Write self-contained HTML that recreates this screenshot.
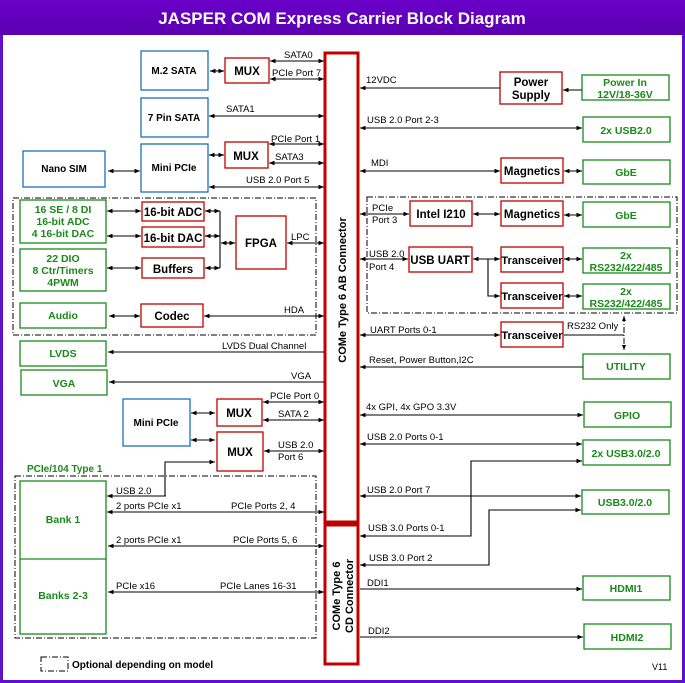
<!DOCTYPE html>
<html><head><meta charset="utf-8"><style>
body{margin:0;background:#fff}
svg{display:block}
text{font-family:"Liberation Sans",Arial,sans-serif}
.l{font-size:9.5px;fill:#000}
.g{font-size:10.5px;font-weight:bold;fill:#1a8a1a;text-anchor:middle}
.b{font-size:10px;font-weight:bold;fill:#000;text-anchor:middle}
.r{font-size:11.5px;font-weight:bold;fill:#000;text-anchor:middle}
.t{font-size:11px}
.bx{fill:#fff;stroke-width:1.3}
.gr{stroke:#1a8a1a}.bl{stroke:#1a6fc0}.rd{stroke:#c00000}
.ln{stroke:#000;stroke-width:1.1;fill:none}
.dd{stroke:#000;stroke-width:1;fill:none;stroke-dasharray:6,2,1,2}
</style></head><body>
<svg width="685" height="683" viewBox="0 0 685 683">
<defs>
<linearGradient id="tg" x1="0" y1="0" x2="0" y2="1"><stop offset="0" stop-color="#6a00c8"/><stop offset="1" stop-color="#5a00b0"/></linearGradient>
<marker id="a" viewBox="0 0 10 10" refX="10" refY="5" markerWidth="5" markerHeight="5" orient="auto-start-reverse"><path d="M0,1 L10,5 L0,9z" fill="#000"/></marker>
</defs>
<rect x="1.5" y="1.5" width="682" height="680" fill="#fff" stroke="#5f10c8" stroke-width="3"/>
<rect x="0" y="0" width="685" height="35" fill="url(#tg)"/>
<text x="342" y="24" text-anchor="middle" style="font-size:17px;font-weight:bold;fill:#fff">JASPER COM Express Carrier Block Diagram</text>

<rect x="325" y="53" width="33" height="469" fill="#fff" stroke="#c00000" stroke-width="3"/>
<text transform="translate(346,290) rotate(-90)" text-anchor="middle" style="font-size:11px;font-weight:bold">COMe Type 6 AB Connector</text>
<rect x="325" y="525" width="33" height="139" fill="#fff" stroke="#c00000" stroke-width="3"/>
<text transform="translate(340,596) rotate(-90)" text-anchor="middle" style="font-size:11px;font-weight:bold">COMe Type 6</text>
<text transform="translate(353,596) rotate(-90)" text-anchor="middle" style="font-size:11px;font-weight:bold">CD Connector</text>

<rect class="dd" x="13" y="198" width="303" height="137"/>
<rect class="dd" x="367" y="197" width="310" height="116"/>
<rect class="dd" x="15" y="476" width="301" height="162"/>
<rect class="dd" x="41" y="657" width="27" height="14"/>
<text x="72" y="668" style="font-size:10px;font-weight:bold">Optional depending on model</text>
<text x="652" y="670" style="font-size:9px">V11</text>

<rect class="bx bl" x="141" y="51" width="67" height="39"/><text class="b" x="174" y="74">M.2 SATA</text>
<rect class="bx rd" x="225" y="58" width="44" height="25"/><text class="r" x="247" y="75">MUX</text>
<rect class="bx bl" x="141" y="98" width="67" height="39"/><text class="b" x="174" y="121">7 Pin SATA</text>
<rect class="bx bl" x="23" y="151" width="82" height="36"/><text class="b" x="64" y="172">Nano SIM</text>
<rect class="bx bl" x="141" y="144" width="67" height="48"/><text class="b" x="174" y="171">Mini PCIe</text>
<rect class="bx rd" x="225" y="142" width="43" height="26"/><text class="r" x="246" y="160">MUX</text>

<rect class="bx gr" x="20" y="200" width="86" height="43"/>
<text class="g" x="63" y="213">16 SE / 8 DI</text><text class="g" x="63" y="225">16-bit ADC</text><text class="g" x="63" y="237">4 16-bit DAC</text>
<rect class="bx gr" x="20" y="249" width="86" height="42"/>
<text class="g" x="63" y="262">22 DIO</text><text class="g" x="63" y="274">8 Ctr/Timers</text><text class="g" x="63" y="286">4PWM</text>
<rect class="bx gr" x="20" y="303" width="86" height="25"/><text class="g" x="63" y="319">Audio</text>
<rect class="bx rd" x="142" y="202" width="62" height="19"/><text class="r" x="173" y="216">16-bit ADC</text>
<rect class="bx rd" x="142" y="227" width="62" height="20"/><text class="r" x="173" y="242">16-bit DAC</text>
<rect class="bx rd" x="142" y="258" width="62" height="20"/><text class="r" x="173" y="273">Buffers</text>
<rect class="bx rd" x="236" y="216" width="50" height="53"/><text class="r" x="261" y="247">FPGA</text>
<rect class="bx rd" x="141" y="304" width="62" height="23"/><text class="r" x="172" y="320">Codec</text>

<rect class="bx gr" x="20" y="341" width="86" height="25"/><text class="g" x="63" y="357">LVDS</text>
<rect class="bx gr" x="21" y="370" width="86" height="25"/><text class="g" x="64" y="387">VGA</text>
<rect class="bx bl" x="123" y="399" width="67" height="47"/><text class="b" x="156" y="426">Mini PCIe</text>
<rect class="bx rd" x="217" y="399" width="45" height="27"/><text class="r" x="239" y="417">MUX</text>
<rect class="bx rd" x="217" y="432" width="46" height="39"/><text class="r" x="240" y="456">MUX</text>
<text x="27" y="472" style="font-size:10px;font-weight:bold;fill:#1a8a1a">PCIe/104 Type 1</text>
<rect class="bx gr" x="20" y="481" width="86" height="153"/>
<line x1="20" y1="559" x2="106" y2="559" stroke="#1a8a1a" stroke-width="1.3"/>
<text class="g" x="63" y="523">Bank 1</text><text class="g" x="63" y="599">Banks 2-3</text>

<rect class="bx rd" x="500" y="72" width="62" height="32"/><text class="r" x="531" y="86">Power</text><text class="r" x="531" y="99">Supply</text>
<rect class="bx gr" x="582" y="75" width="87" height="25"/><text class="g" x="625" y="86">Power In</text><text class="g" x="625" y="98">12V/18-36V</text>
<rect class="bx gr" x="583" y="117" width="87" height="25"/><text class="g" x="626" y="134">2x USB2.0</text>
<rect class="bx rd" x="501" y="158" width="62" height="25"/><text class="r" x="532" y="175">Magnetics</text>
<rect class="bx gr" x="583" y="160" width="87" height="24"/><text class="g" x="626" y="176">GbE</text>
<rect class="bx rd" x="410" y="201" width="62" height="25"/><text class="r" x="441" y="218">Intel I210</text>
<rect class="bx rd" x="501" y="201" width="62" height="25"/><text class="r" x="532" y="218">Magnetics</text>
<rect class="bx gr" x="583" y="202" width="87" height="25"/><text class="g" x="626" y="219">GbE</text>
<rect class="bx rd" x="409" y="247" width="63" height="25"/><text class="r" x="440" y="264">USB UART</text>
<rect class="bx rd" x="501" y="247" width="62" height="25"/><text class="r t" x="532" y="264">Transceiver</text>
<rect class="bx gr" x="583" y="248" width="87" height="25"/><text class="g" x="626" y="259">2x</text><text class="g" x="626" y="271">RS232/422/485</text>
<rect class="bx rd" x="501" y="283" width="62" height="25"/><text class="r t" x="532" y="300">Transceiver</text>
<rect class="bx gr" x="583" y="284" width="87" height="25"/><text class="g" x="626" y="295">2x</text><text class="g" x="626" y="307">RS232/422/485</text>
<rect class="bx rd" x="501" y="322" width="62" height="25"/><text class="r t" x="532" y="339">Transceiver</text>
<rect class="bx gr" x="583" y="354" width="87" height="25"/><text class="g" x="626" y="370">UTILITY</text>
<rect class="bx gr" x="584" y="402" width="87" height="25"/><text class="g" x="627" y="419">GPIO</text>
<rect class="bx gr" x="583" y="440" width="87" height="25"/><text class="g" x="626" y="457">2x USB3.0/2.0</text>
<rect class="bx gr" x="582" y="490" width="87" height="24"/><text class="g" x="625" y="506">USB3.0/2.0</text>
<rect class="bx gr" x="583" y="576" width="87" height="24"/><text class="g" x="626" y="592">HDMI1</text>
<rect class="bx gr" x="584" y="624" width="87" height="25"/><text class="g" x="627" y="641">HDMI2</text>

<g class="ln" marker-start="url(#a)" marker-end="url(#a)">
<line x1="210" y1="71" x2="224" y2="71"/>
<line x1="270" y1="61" x2="324" y2="61"/>
<line x1="270" y1="79" x2="324" y2="79"/>
<line x1="209" y1="116" x2="324" y2="116"/>
<line x1="108" y1="171" x2="140" y2="171"/>
<line x1="209" y1="155" x2="224" y2="155"/>
<line x1="269" y1="144" x2="324" y2="144"/>
<line x1="269" y1="163" x2="324" y2="163"/>
<line x1="209" y1="187" x2="324" y2="187"/>
<line x1="107" y1="211" x2="141" y2="211"/>
<line x1="107" y1="236" x2="141" y2="236"/>
<line x1="107" y1="268" x2="141" y2="268"/>
<line x1="205" y1="211" x2="220" y2="211"/>
<line x1="205" y1="236" x2="220" y2="236"/>
<line x1="205" y1="268" x2="220" y2="268"/>
<line x1="221" y1="243" x2="235" y2="243"/>
<line x1="287" y1="243" x2="324" y2="243"/>
<line x1="109" y1="316" x2="140" y2="316"/>
<line x1="204" y1="316" x2="324" y2="316"/>
<line x1="191" y1="413" x2="215" y2="413"/>
<line x1="191" y1="440" x2="215" y2="440"/>
<line x1="263" y1="402" x2="324" y2="402"/>
<line x1="263" y1="420" x2="324" y2="420"/>
<line x1="264" y1="451" x2="324" y2="451"/>
<line x1="107" y1="512" x2="324" y2="512"/>
<line x1="108" y1="546" x2="324" y2="546"/>
<line x1="108" y1="592" x2="324" y2="592"/>
</g>
<line class="ln" x1="220" y1="211" x2="220" y2="268"/>
<g class="ln" marker-end="url(#a)">
<line x1="324" y1="352" x2="108" y2="352"/>
<line x1="324" y1="382" x2="109" y2="382"/>
<polyline points="165,496 165,462 215,462"/>
<line x1="166" y1="496" x2="107" y2="496"/>
</g>
<g class="l">
<text x="284" y="58">SATA0</text><text x="272" y="76">PCIe Port 7</text>
<text x="226" y="112">SATA1</text>
<text x="271" y="142">PCIe Port 1</text><text x="275" y="160">SATA3</text>
<text x="246" y="183">USB 2.0 Port 5</text>
<text x="291" y="240">LPC</text><text x="284" y="313">HDA</text>
<text x="222" y="349">LVDS Dual Channel</text><text x="291" y="379">VGA</text>
<text x="270" y="399">PCIe Port 0</text><text x="278" y="417">SATA 2</text>
<text x="278" y="448">USB 2.0</text><text x="278" y="460">Port 6</text>
<text x="116" y="494">USB 2.0</text>
<text x="116" y="509">2 ports PCIe x1</text><text x="231" y="509">PCIe Ports 2, 4</text>
<text x="116" y="543">2 ports PCIe x1</text><text x="233" y="543">PCIe Ports 5, 6</text>
<text x="116" y="589">PCIe x16</text><text x="220" y="589">PCIe Lanes 16-31</text>
</g>

<g class="ln" marker-end="url(#a)">
<line x1="500" y1="88" x2="360" y2="88"/>
<line x1="582" y1="90" x2="563" y2="90"/>
<line x1="583" y1="367" x2="360" y2="367"/>
<line x1="360" y1="589" x2="582" y2="589"/>
<line x1="360" y1="637" x2="583" y2="637"/>
<polyline points="488,259 488,296 500,296"/>
</g>
<g class="ln" marker-start="url(#a)" marker-end="url(#a)">
<line x1="360" y1="128" x2="582" y2="128"/>
<line x1="360" y1="171" x2="500" y2="171"/>
<line x1="564" y1="171" x2="582" y2="171"/>
<line x1="360" y1="214" x2="409" y2="214"/>
<line x1="473" y1="214" x2="500" y2="214"/>
<line x1="564" y1="215" x2="582" y2="215"/>
<line x1="360" y1="259" x2="408" y2="259"/>
<line x1="473" y1="259" x2="500" y2="259"/>
<line x1="564" y1="259" x2="582" y2="259"/>
<line x1="564" y1="296" x2="582" y2="296"/>
<line x1="360" y1="335" x2="500" y2="335"/>
<line x1="360" y1="415" x2="583" y2="415"/>
<line x1="360" y1="444" x2="582" y2="444"/>
<line x1="360" y1="496" x2="581" y2="496"/>
<polyline points="360,536 471,536 471,461 582,461"/>
<polyline points="360,565 489,565 489,510 581,510"/>
</g>
<line class="ln" x1="564" y1="335" x2="624" y2="335"/>
<line class="dd" x1="624" y1="316" x2="624" y2="350" marker-start="url(#a)" marker-end="url(#a)"/>
<g class="l">
<text x="366" y="83">12VDC</text>
<text x="367" y="123">USB 2.0 Port 2-3</text>
<text x="371" y="166">MDI</text>
<text x="372" y="211">PCIe</text><text x="372" y="223">Port 3</text>
<text x="369" y="257">USB 2.0</text><text x="369" y="270">Port 4</text>
<text x="370" y="333">UART Ports 0-1</text>
<text x="567" y="329">RS232 Only</text>
<text x="369" y="363">Reset, Power Button,I2C</text>
<text x="366" y="410">4x GPI, 4x GPO 3.3V</text>
<text x="367" y="440">USB 2.0 Ports 0-1</text>
<text x="367" y="493">USB 2.0 Port 7</text>
<text x="368" y="531">USB 3.0 Ports 0-1</text>
<text x="369" y="561">USB 3.0 Port 2</text>
<text x="367" y="586">DDI1</text>
<text x="368" y="634">DDI2</text>
</g>
</svg>
</body></html>
